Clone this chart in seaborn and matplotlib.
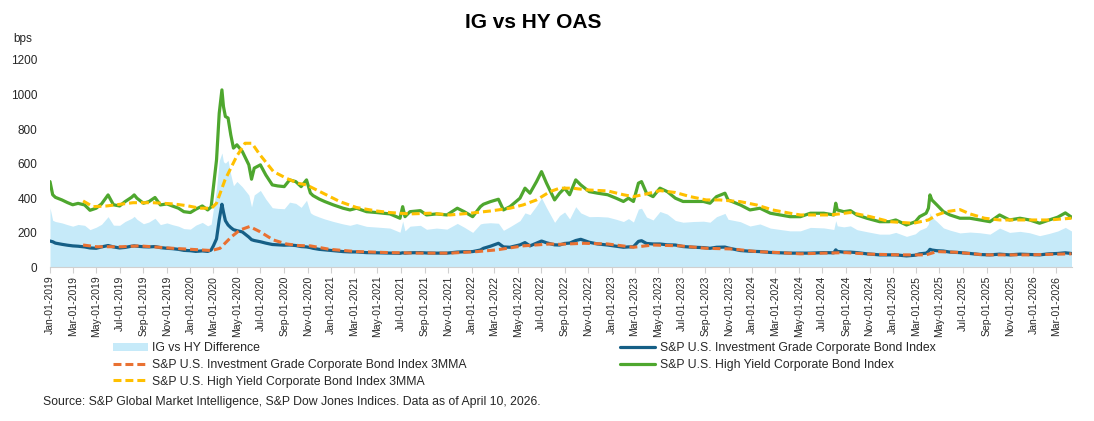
import numpy as np
import pandas as pd
import matplotlib
matplotlib.use("Agg")
import matplotlib.pyplot as plt
import matplotlib.dates as mdates
from matplotlib.patches import Patch
from matplotlib.lines import Line2D
from matplotlib import font_manager
import seaborn as sns

# ---------------- data ----------------
dates = ["2019-01-01", "2019-01-08", "2019-01-15", "2019-02-01", "2019-02-15", "2019-03-01", "2019-03-15",
         "2019-04-01", "2019-04-15", "2019-05-01", "2019-05-15", "2019-06-01", "2019-06-15", "2019-07-01",
         "2019-07-15", "2019-08-01", "2019-08-08", "2019-08-15", "2019-09-01", "2019-09-15", "2019-10-01",
         "2019-10-15", "2019-11-01", "2019-11-15", "2019-12-01", "2019-12-15",
         "2020-01-01", "2020-01-15", "2020-02-01", "2020-02-15", "2020-02-24", "2020-03-01", "2020-03-09",
         "2020-03-16", "2020-03-23", "2020-03-27", "2020-04-01", "2020-04-08", "2020-04-15", "2020-04-22",
         "2020-05-01", "2020-05-15", "2020-06-01", "2020-06-08", "2020-06-15", "2020-07-01", "2020-07-15",
         "2020-08-01", "2020-08-15", "2020-09-01", "2020-09-15", "2020-10-01", "2020-10-15", "2020-10-29",
         "2020-11-08", "2020-11-15", "2020-12-01", "2020-12-15",
         "2021-01-07", "2021-02-01", "2021-02-19", "2021-03-08", "2021-04-03", "2021-04-29", "2021-06-03",
         "2021-06-29", "2021-07-06", "2021-07-12", "2021-07-25", "2021-08-21", "2021-09-06", "2021-10-02",
         "2021-10-29", "2021-11-25", "2021-12-13",
         "2022-01-04", "2022-01-24", "2022-02-01", "2022-02-19", "2022-03-12", "2022-03-25", "2022-04-11",
         "2022-05-07", "2022-05-20", "2022-06-02", "2022-06-19", "2022-07-02", "2022-07-15", "2022-08-05",
         "2022-08-18", "2022-08-31", "2022-09-13", "2022-09-29", "2022-10-12", "2022-11-03", "2022-11-25",
         "2022-12-21",
         "2023-01-12", "2023-01-31", "2023-02-13", "2023-02-26", "2023-03-11", "2023-03-19", "2023-04-01",
         "2023-04-18", "2023-05-06", "2023-05-25", "2023-06-15", "2023-07-05", "2023-08-01", "2023-08-27",
         "2023-09-13", "2023-09-30", "2023-10-22", "2023-10-30", "2023-12-01", "2023-12-26",
         "2024-01-21", "2024-02-17", "2024-03-13", "2024-04-08", "2024-05-05", "2024-05-31", "2024-07-05",
         "2024-07-31", "2024-08-05", "2024-08-09", "2024-08-26", "2024-09-12", "2024-09-29", "2024-10-25",
         "2024-11-27", "2024-12-22",
         "2025-01-08", "2025-02-05", "2025-02-28", "2025-03-11", "2025-03-28", "2025-04-03", "2025-04-07",
         "2025-04-12", "2025-04-25", "2025-05-12", "2025-05-29", "2025-06-24", "2025-07-20", "2025-08-15",
         "2025-09-10", "2025-10-05", "2025-10-31", "2025-11-27", "2025-12-22",
         "2026-01-17", "2026-02-11", "2026-03-05", "2026-03-25", "2026-04-10"]

hy_oas = [496, 420, 405, 390, 375, 362, 370,
          361, 330, 342, 367, 419, 362, 355,
          380, 405, 419, 400, 371, 380, 404,
          361, 367, 355, 342, 322,
          317, 336, 355, 332, 350, 467, 622,
          892, 1027, 931, 873, 864, 767, 690,
          709, 671, 593, 510, 574, 593, 535,
          477, 471, 467, 506, 496, 467, 506,
          430, 415, 395, 381,
          361, 342, 332, 342, 322, 317, 309,
          284, 351, 293, 322, 328, 303, 309,
          303, 342, 322,
          293, 351, 365, 380, 394, 332, 351,
          400, 458, 429, 496, 554, 487, 390,
          429, 458, 420, 506, 477, 438, 429,
          420,
          400, 381, 400, 381, 487, 496, 429,
          409, 458, 438, 400, 381, 381, 381,
          371, 409, 429, 390, 361, 332,
          342, 313, 303, 293, 293, 313, 313,
          303, 371, 332, 322, 328, 303, 284,
          264, 264,
          274, 245, 264, 293, 313, 342, 419,
          390, 361, 322, 303, 284, 284, 274,
          264, 303, 274, 284, 274,
          255, 274, 290, 315, 290]

ig_oas = [152, 148, 140, 133, 128, 124, 122,
          118, 112, 110, 118, 126, 118, 112,
          115, 122, 124, 122, 119, 118, 120,
          114, 110, 108, 104, 98,
          96, 92, 95, 92, 100, 125, 165,
          275, 365, 320, 270, 245, 230, 218,
          212, 205, 175, 160, 155, 148, 140,
          132, 130, 128, 129, 126, 120, 118,
          114, 110, 104, 101,
          96, 91, 89, 89, 85, 84, 82,
          81, 84, 82, 84, 85, 83, 82,
          82, 88, 90,
          91, 100, 110, 122, 139, 118, 116,
          130, 143, 124, 140, 152, 142, 130,
          129, 138, 140, 155, 162, 145, 135,
          129,
          122, 116, 118, 119, 150, 154, 138,
          135, 135, 130, 129, 120, 116, 114,
          110, 116, 117, 112, 97, 93,
          91, 86, 84, 82, 82, 82, 85,
          84, 101, 92, 88, 88, 85, 78,
          72, 72,
          72, 66, 70, 78, 82, 92, 104,
          100, 96, 94, 88, 85, 80, 74,
          72, 76, 72, 76, 74,
          72, 78, 80, 84, 80]

hy_mma_dates = ["2019-03-28", "2019-04-23", "2019-05-28", "2019-08-05", "2019-09-26", "2019-11-17", "2019-12-22",
                "2020-01-26", "2020-02-25", "2020-03-09", "2020-03-31", "2020-04-30", "2020-05-22", "2020-06-09",
                "2020-06-30", "2020-08-04", "2020-09-07", "2020-10-08", "2020-10-29", "2020-12-11",
                "2021-01-24", "2021-03-08", "2021-04-29", "2021-06-03", "2021-07-25", "2021-09-15", "2021-11-06",
                "2021-12-28", "2022-02-19", "2022-04-11", "2022-05-15", "2022-06-19", "2022-07-24", "2022-08-18",
                "2022-09-20", "2022-10-29", "2022-12-21", "2023-01-31", "2023-02-26", "2023-04-01", "2023-05-06",
                "2023-06-15", "2023-07-24", "2023-09-03", "2023-10-08", "2023-12-01", "2024-01-12", "2024-02-23",
                "2024-04-08", "2024-05-05", "2024-07-22", "2024-09-12", "2024-11-03", "2024-12-24", "2025-02-23",
                "2025-04-03", "2025-04-25", "2025-05-20", "2025-06-24", "2025-07-20", "2025-08-27", "2025-10-05",
                "2025-11-18", "2025-12-22", "2026-02-11", "2026-04-10"]
hy_mma = [384, 351, 355, 374, 374, 367, 357,
          342, 342, 371, 506, 641, 718, 718,
          651, 554, 515, 486, 477, 429,
          380, 346, 326, 317, 309, 313, 303,
          313, 326, 342, 361, 390, 438, 458,
          458, 448, 442, 420, 409, 425, 444,
          433, 409, 390, 390, 380, 361, 332,
          313, 303, 303, 317, 293, 264, 255,
          274, 303, 322, 334, 309, 284, 274,
          274, 274, 274, 284]

ig_mma_dates = ["2019-03-28", "2019-05-02", "2019-07-07", "2019-08-22", "2019-11-17", "2020-01-26", "2020-02-25",
                "2020-03-18", "2020-04-17", "2020-05-09", "2020-06-03", "2020-06-30", "2020-08-04", "2020-09-07",
                "2020-10-08", "2020-11-08", "2020-12-28", "2021-03-08", "2021-06-03", "2021-08-24", "2021-11-06",
                "2022-01-16", "2022-03-08", "2022-05-15", "2022-07-24", "2022-08-18", "2022-10-20", "2022-12-21",
                "2023-02-26", "2023-04-18", "2023-06-28", "2023-09-03", "2023-11-11", "2024-01-12", "2024-03-13",
                "2024-05-05", "2024-07-05", "2024-09-01", "2024-11-03", "2025-01-17", "2025-03-28", "2025-04-25",
                "2025-06-15", "2025-08-27", "2025-10-31", "2025-12-22", "2026-02-11", "2026-04-10"]
ig_mma = [129, 119, 119, 124, 110, 101, 97,
          110, 177, 216, 236, 206, 158, 135,
          126, 124, 104, 91, 85, 82, 82,
          91, 101, 124, 135, 133, 139, 135,
          116, 129, 124, 110, 106, 91, 85,
          78, 82, 85, 76, 72, 72, 91,
          87, 72, 72, 72, 75, 78]

title = "IG vs HY OAS"
y_unit = "bps"
legend_labels = ["IG vs HY Difference",
                 "S&P U.S. Investment Grade Corporate Bond Index",
                 "S&P U.S. Investment Grade Corporate Bond Index 3MMA",
                 "S&P U.S. High Yield Corporate Bond Index",
                 "S&P U.S. High Yield Corporate Bond Index 3MMA"]
source_text = "Source: S&P Global Market Intelligence, S&P Dow Jones Indices. Data as of April 10, 2026."

# ---------------- styling ----------------
sns.set_theme(style="white")
available = {f.name for f in font_manager.fontManager.ttflist}
base_font = "Liberation Sans" if "Liberation Sans" in available else "DejaVu Sans"
plt.rcParams["font.family"] = [base_font, "DejaVu Sans"]

C_AREA = "#C6EAF9"
C_IG = "#155F86"
C_IGM = "#E97132"
C_HY = "#4EA72E"
C_HYM = "#FFC000"
DASH = (0, (2.6, 1.3))
TXT = "#262626"

W, H = 1094, 421
fig = plt.figure(figsize=(W / 100, H / 100), dpi=100)
ax = fig.add_axes([50 / W, 1 - 267.3 / H, (1071.5 - 50) / W, (267.3 - 60) / H])

df = pd.DataFrame({"date": pd.to_datetime(dates), "hy": hy_oas, "ig": ig_oas})
df["diff"] = df["hy"] - df["ig"]
dfh = pd.DataFrame({"date": pd.to_datetime(hy_mma_dates), "v": hy_mma})
dfi = pd.DataFrame({"date": pd.to_datetime(ig_mma_dates), "v": ig_mma})

ax.fill_between(df["date"], 0, df["diff"], color=C_AREA, lw=0, zorder=1)
sns.lineplot(data=df, x="date", y="ig", ax=ax, color=C_IG, lw=2.3, estimator=None, zorder=3)
sns.lineplot(data=dfi, x="date", y="v", ax=ax, color=C_IGM, lw=2.2, linestyle=DASH, estimator=None, zorder=4)
sns.lineplot(data=df, x="date", y="hy", ax=ax, color=C_HY, lw=2.3, estimator=None, zorder=3)
sns.lineplot(data=dfh, x="date", y="v", ax=ax, color=C_HYM, lw=2.2, linestyle=DASH, estimator=None, zorder=4)

ax.set_xlim(pd.Timestamp("2019-01-01"), pd.Timestamp("2026-04-10"))
ax.set_ylim(0, 1200)
ax.set_yticks(range(0, 1201, 200))
ax.set_xlabel("")
ax.set_ylabel("")
ax.xaxis.set_major_locator(mdates.MonthLocator(bymonth=[1, 3, 5, 7, 9, 11]))
ax.xaxis.set_major_formatter(mdates.DateFormatter("%b-01-%Y"))
ax.tick_params(axis="x", labelsize=7.5, rotation=90, length=4, width=0.8, color="#D0D0D0",
               pad=2, labelcolor=TXT, bottom=True)
ax.tick_params(axis="y", labelsize=8.5, length=0, pad=9, labelcolor=TXT)
for s in ["top", "right", "left"]:
    ax.spines[s].set_visible(False)
ax.spines["bottom"].set_color("#D0D0D0")
ax.spines["bottom"].set_linewidth(0.8)
ax.grid(False)

fig.text(533 / W, 1 - 23 / H, title, ha="center", va="center", fontsize=15, fontweight="bold",
         color="#000000")
fig.text(13 / W, 1 - 39 / H, y_unit, ha="left", va="center", fontsize=8.5, color=TXT)

leg_fs = 8.8
h_area = Patch(facecolor=C_AREA, edgecolor="none")
h_ig = Line2D([0], [0], color=C_IG, lw=2.3)
h_igm = Line2D([0], [0], color=C_IGM, lw=2.2, linestyle=DASH)
h_hy = Line2D([0], [0], color=C_HY, lw=2.3)
h_hym = Line2D([0], [0], color=C_HYM, lw=2.2, linestyle=DASH)

common = dict(frameon=False, borderpad=0, borderaxespad=0, handlelength=2.9,
              handletextpad=0.35, labelspacing=0.38, prop={"size": leg_fs})
leg1 = fig.legend([h_area, h_igm, h_hym], [legend_labels[0], legend_labels[2], legend_labels[4]],
                  loc="upper left", bbox_to_anchor=(112.7 / W, 1 - 342.3 / H), **common)
leg2 = fig.legend([h_ig, h_hy], [legend_labels[1], legend_labels[3]],
                  loc="upper left", bbox_to_anchor=(620 / W, 1 - 342.3 / H), **common)
for lg in (leg1, leg2):
    for t in lg.get_texts():
        t.set_color(TXT)

fig.text(42.7 / W, 1 - 401.7 / H, source_text, ha="left", va="center", fontsize=leg_fs, color=TXT)

fig.savefig("out.png", dpi=100)
